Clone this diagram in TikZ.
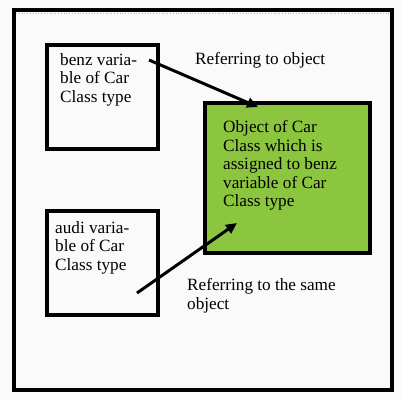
\documentclass[tikz,border=0pt]{standalone}
\usepackage{fontspec}
\setmainfont{Liberation Serif}
\usetikzlibrary{arrows.meta}
\definecolor{bg}{RGB}{250,250,250}
\definecolor{objgreen}{RGB}{139,198,62}
\definecolor{dotblue}{RGB}{150,185,225}
\tikzset{
  frame/.style={draw=black, line width=4pt},
  varbox/.style={draw=black, line width=4pt, fill=bg},
  objbox/.style={draw=black, line width=4pt, fill=objgreen},
  txt/.style={anchor=north west, inner sep=0pt, align=left,
    font=\fontsize{17.2}{18.5}\selectfont},
  refarrow/.style={line width=3pt, -{Triangle[length=11pt,width=10pt]}},
}
\begin{document}
\begin{tikzpicture}[x=1pt,y=-1pt]
\useasboundingbox (0,0) rectangle (401,400);
\fill[bg] (0,0) rectangle (401,400);
\draw[frame] (14,10) rectangle (392,390);
\draw[dotblue, line width=0.8pt, dotted] (16,13) -- (390,13);
\node[varbox, minimum width=111pt, minimum height=104pt, anchor=north west] (benz) at (45,43) {};
\node[varbox, minimum width=111pt, minimum height=104pt, anchor=north west] (audi) at (45,209) {};
\node[objbox, minimum width=165pt, minimum height=150pt, anchor=north west] (obj) at (203,101) {};
\node[txt] (benztxt) at (60,53.3) {benz varia-\\ble of Car\\Class type};
\node[txt] (auditxt) at (55,221.3) {audi varia-\\ble of Car\\Class type};
\node[txt] (objtxt) at (223,120.3) {Object of Car\\Class which is\\assigned to benz\\variable of Car\\Class type};
\node[txt] (ref1) at (195,52.3) {Referring to object};
\node[txt] (ref2) at (187,278.3) {Referring to the same\\object};
\coordinate (s1) at (149,60);
\coordinate (e1) at (258,107);
\coordinate (s2) at (137,293);
\coordinate (e2) at (237,223);
\draw[refarrow] (s1) -- (e1);
\draw[refarrow] (s2) -- (e2);
\end{tikzpicture}
\end{document}
